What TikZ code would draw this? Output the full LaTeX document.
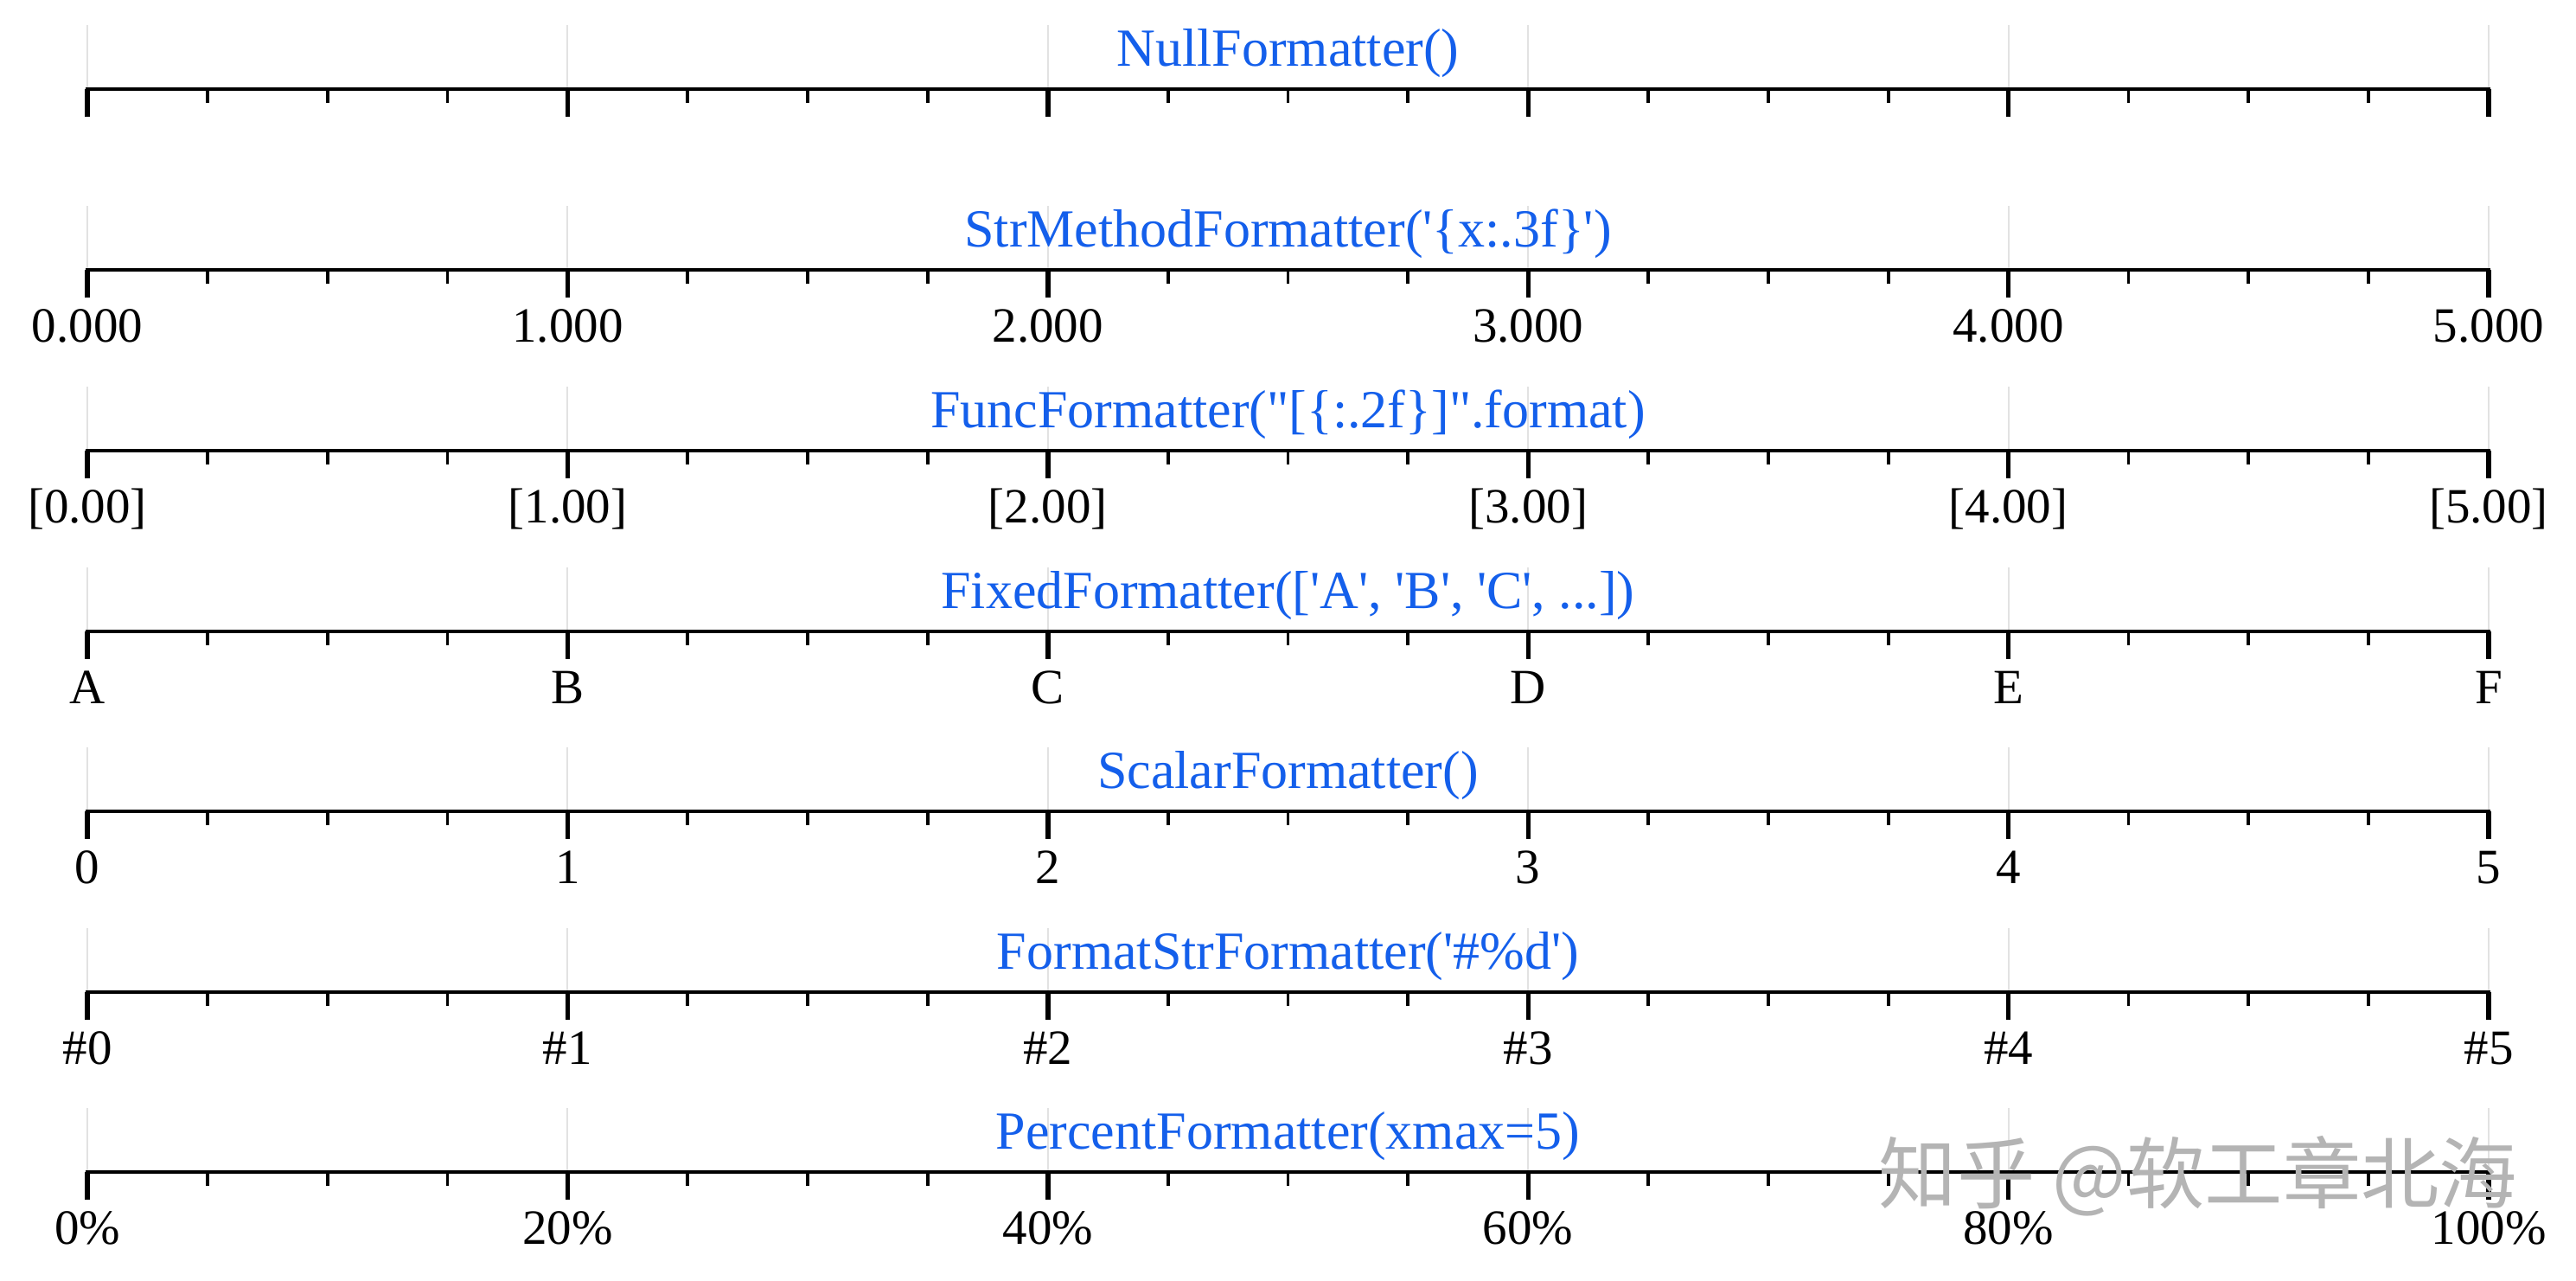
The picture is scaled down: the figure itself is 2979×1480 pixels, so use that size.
\documentclass[tikz,border=0pt]{standalone}
\usepackage{fontspec}
\setmainfont{Liberation Serif}[Ligatures=TeXOff]
\newfontfamily\cjk{Noto Sans CJK SC}
\definecolor{ttl}{RGB}{20,95,235}
\definecolor{grd}{RGB}{226,226,226}
\definecolor{wm}{RGB}{180,180,180}
\newcommand\myaxis[3]{%
  \foreach \k in {0,...,5} {\draw[gridln] (101+555.4*\k,#2-74) -- (101+555.4*\k,#2);}
  \draw[axisline] (101,#2) coordinate (#1L) -- (2878,#2) coordinate (#1R);
  \foreach \k in {0,...,5} {\draw[majtick] (101+555.4*\k,#2) -- ++(0,32);}
  \foreach \k in {0,...,4} {\foreach \m in {1,2,3} {\draw[mintick] (101+555.4*\k+138.85*\m,#2) -- ++(0,16);}}
  \node[ttlnode] (#1T) at (1489.5,#2-27) {#3};
}
\begin{document}
\begin{tikzpicture}[x=0.25pt,y=-0.25pt,
  axisline/.style={line width=1.15pt, line cap=rect},
  majtick/.style={line width=1.35pt},
  mintick/.style={line width=0.95pt},
  gridln/.style={grd, line width=0.5pt},
  ttlnode/.style={ttl, anchor=base, inner sep=0pt, font=\fontsize{15.5pt}{18pt}\selectfont},
  lblnode/.style={anchor=base, inner sep=0pt, font=\fontsize{14.25pt}{17pt}\selectfont}]
\fill[white] (0,0) rectangle (2979,1480);
\useasboundingbox (0,0) rectangle (2979,1480);

\myaxis{ra}{103}{NullFormatter()}
\myaxis{rb}{312}{StrMethodFormatter('\{x:.3f\}')}
\myaxis{rc}{521}{FuncFormatter("[\{:.2f\}]".format)}
\myaxis{rd}{730}{FixedFormatter(['A', 'B', 'C', ...])}
\myaxis{re}{938}{ScalarFormatter()}
\myaxis{rf}{1147}{FormatStrFormatter('\#\%d')}
\myaxis{rg}{1355}{PercentFormatter(xmax=5)}

\foreach \k/\t in {0/0.000,1/1.000,2/2.000,3/3.000,4/4.000,5/5.000}
  {\node[lblnode] (rbl\k) at (101+555.4*\k,312+83) {\t};}
\foreach \k/\t in {0/{[0.00]},1/{[1.00]},2/{[2.00]},3/{[3.00]},4/{[4.00]},5/{[5.00]}}
  {\node[lblnode] (rcl\k) at (101+555.4*\k,521+83) {\t};}
\foreach \k/\t in {0/A,1/B,2/C,3/D,4/E,5/F}
  {\node[lblnode] (rdl\k) at (101+555.4*\k,730+83) {\t};}
\foreach \k/\t in {0/0,1/1,2/2,3/3,4/4,5/5}
  {\node[lblnode] (rel\k) at (101+555.4*\k,938+83) {\t};}
\foreach \k/\t in {0/\#0,1/\#1,2/\#2,3/\#3,4/\#4,5/\#5}
  {\node[lblnode] (rfl\k) at (101+555.4*\k,1147+83) {\t};}
\foreach \k/\t in {0/0\%,1/20\%,2/40\%,3/60\%,4/80\%,5/100\%}
  {\node[lblnode] (rgl\k) at (101+555.4*\k,1355+83) {\t};}

\node[wm, anchor=west, inner sep=0pt, font=\cjk\fontsize{22.6pt}{24pt}\selectfont] (wmark) at (2172,1360) {知乎 @软工章北海};
\end{tikzpicture}
\end{document}
